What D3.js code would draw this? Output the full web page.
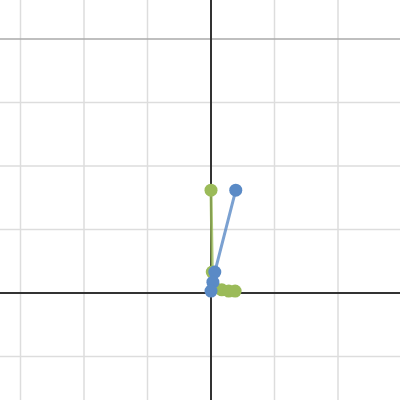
<!DOCTYPE html><html><head><script src="https://cdn.jsdelivr.net/npm/d3@7"></script>
<style>body{margin:0}svg{display:block}</style></head><body><script>
const gridX=[-3,-2,-1,1,2,3];
const gridY=[-1,1,2,3,4];
const greenX=[0,0.02,0.06,0.17,0.28,0.38];
const greenY=[1.62,0.33,0.08,0.05,0.03,0.03];
const blueX=[0.39,0.06,0.03,0.0];
const blueY=[1.62,0.33,0.17,0.03];
const W=400,H=400,U=63.5;
const x=d3.scaleLinear().domain([-211/U,189/U]).range([0,W]);
const y=d3.scaleLinear().domain([293/U,-107/U]).range([0,H]);
const svg=d3.select("body").append("svg").attr("width",W).attr("height",H);
svg.append("rect").attr("width",W).attr("height",H).attr("fill","#fff");
svg.selectAll(".gx").data(gridX).join("line").attr("x1",d=>x(d)).attr("x2",d=>x(d)).attr("y1",0).attr("y2",H).attr("stroke","#ddd").attr("stroke-width",1.5);
svg.selectAll(".gy").data(gridY).join("line").attr("y1",d=>y(d)).attr("y2",d=>y(d)).attr("x1",0).attr("x2",W).attr("stroke",d=>d===4?"#aaa":"#ddd").attr("stroke-width",1.5);
svg.append("line").attr("x1",x(0)).attr("x2",x(0)).attr("y1",0).attr("y2",H).attr("stroke","#333").attr("stroke-width",2);
svg.append("line").attr("y1",y(0)).attr("y2",y(0)).attr("x1",0).attr("x2",W).attr("stroke","#333").attr("stroke-width",2);
function series(xs,ys,c){
  const pts=xs.map((v,i)=>[x(v),y(ys[i])]);
  svg.append("path").attr("d",d3.line()(pts)).attr("fill","none").attr("stroke",c).attr("stroke-width",3).attr("stroke-opacity",0.8);
  svg.append("g").selectAll("circle").data(pts).join("circle").attr("cx",d=>d[0]).attr("cy",d=>d[1]).attr("r",6.5).attr("fill",c);
}
series(greenX,greenY,"#9bbb59");
series(blueX,blueY,"#5a8ac6");
</script></body></html>
